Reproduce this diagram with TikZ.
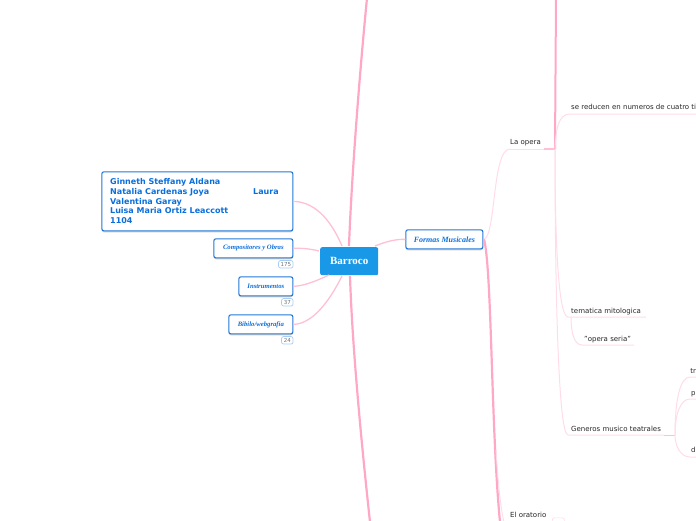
\documentclass[tikz,border=0pt]{standalone}
\usepackage{fontspec}
\setmainfont{DejaVu Sans}
\newfontfamily\serifbf{Liberation Serif}
\usetikzlibrary{shadows}
\definecolor{pinkA}{HTML}{FFA8C5}
\definecolor{pinkB}{HTML}{FFBFD4}
\definecolor{pinkC}{HTML}{FFDCE8}
\definecolor{blueA}{HTML}{1A98E8}
\definecolor{blueB}{HTML}{2478D8}
\definecolor{blueC}{HTML}{0A6FDC}
\definecolor{blueD}{HTML}{A8CDF5}
\tikzset{
  x=1pt,y=-1pt,
  topic/.style={draw=blueB,line width=1.1pt,fill=white,rounded corners=2pt,inner sep=0pt,
    drop shadow={shadow xshift=0pt,shadow yshift=-1.4pt,opacity=.4,fill=black!50},anchor=north west},
  subtitle/.style={font=\serifbf\bfseries\itshape\fontsize{6.7}{8}\selectfont,text=blueC},
  badge/.style={draw=blueD,line width=.7pt,fill=white,rounded corners=2pt,inner sep=0pt,
    font=\fontsize{5.5}{6}\selectfont,text=black!55,anchor=north west},
  leaf/.style={font=\fontsize{7}{8}\selectfont,text=black!85,inner sep=0pt,anchor=base west},
  trunk/.style={draw=pinkA,line width=2.2pt},
  branch/.style={draw=pinkB,line width=1.3pt},
  twig/.style={draw=pinkC,line width=1pt},
}
\begin{document}
\begin{tikzpicture}
\useasboundingbox (0,0) rectangle (696,520);
\clip (0,0) rectangle (696,520);
% nodes
\node[fill=blueA,rounded corners=2pt,minimum width=58pt,minimum height=28pt,inner sep=0pt,anchor=north west,
  text=white,font=\serifbf\bfseries\fontsize{11}{12}\selectfont] (barroco) at (320,247) {Barroco};
\node[topic,minimum width=191pt,minimum height=59pt] (autores) at (101.3,171.3) {};
\node[anchor=north west,inner sep=0pt,align=left,text=blueC,font=\bfseries\fontsize{8}{9.6}\selectfont] (autorestxt) at (110,178.7)
 {Ginneth Steffany Aldana\\\makebox[143pt][l]{Natalia Cardenas Joya}Laura\\Valentina Garay\\Luisa Maria Ortiz Leaccott\\1104};
\node[topic,minimum width=79pt,minimum height=19pt,subtitle] (comp) at (213.3,238.3) {Compositores y Obras};
\node[topic,minimum width=54pt,minimum height=19pt,subtitle] (inst) at (238.3,276.3) {Instrumentos};
\node[topic,minimum width=64pt,minimum height=19pt,subtitle] (bibl) at (228.3,314.3) {Bibilo/webgrafia};
\node[topic,minimum width=77pt,minimum height=19pt,subtitle,font=\serifbf\bfseries\itshape\fontsize{8}{10}\selectfont] (formas) at (405.3,229.3) {Formas Musicales};
\node[badge,minimum width=14.5pt,minimum height=7.5pt] (b1) at (278.2,260.2) {175};
\node[badge,minimum width=11.5pt,minimum height=7.5pt] (b2) at (281.2,298.2) {37};
\node[badge,minimum width=11.5pt,minimum height=7.5pt] (b3) at (281.2,336.2) {24};
\node[badge,draw=pinkC,minimum width=12pt,minimum height=8pt,text=pinkB] (b4) at (552,517.5) {};
\node[leaf] (opera) at (510,144) {La opera};
\node[leaf] (cuatro) at (571,109) {se reducen en numeros de cuatro ti};
\node[leaf] (tema) at (571,313) {tematica mitologica};
\node[leaf] (seria) at (584,341) {"opera seria"};
\node[leaf] (generos) at (571,431) {Generos musico teatrales};
\node[leaf] (tr) at (690.2,373) {tr};
\node[leaf] (p) at (691,395) {p};
\node[leaf] (d) at (691,452) {d};
\node[leaf] (orat) at (510,517) {El oratorio};
% junctions and free ends
\coordinate (upEnd) at (367,-2);
\coordinate (downEnd) at (370,522);
\coordinate (formasOut) at (484,239);
\coordinate (formasDown) at (500,522);
\coordinate (operaL) at (510,149);
\coordinate (operaR) at (544,149);
\coordinate (junction) at (555,149);
\coordinate (junctionUp) at (556,-2);
\coordinate (cuatroL) at (570,114);
\coordinate (cuatroR) at (698,114);
\coordinate (temaL) at (568,317);
\coordinate (temaR) at (646,317);
\coordinate (seriaL) at (582,345);
\coordinate (seriaR) at (634,345);
\coordinate (genL) at (568,435);
\coordinate (genM) at (664,435);
\coordinate (genR) at (675,435);
\coordinate (trL) at (690,377);
\coordinate (pL) at (690,399);
\coordinate (dL) at (690,457);
\coordinate (edgeT) at (698,377);
\coordinate (edgeP) at (698,399);
\coordinate (edgeD) at (698,457);
\coordinate (centerUp) at (349,246);
\coordinate (centerDown) at (350,276);
% connectors
\draw[trunk] (centerUp) .. controls (351,190) and (358,90) .. (upEnd);
\draw[trunk] (centerDown) .. controls (352,340) and (360,430) .. (downEnd);
\draw[branch] (autores.east) .. controls (318,202) and (333,225) .. (342,246);
\draw[branch] (comp.east) .. controls (303,248) and (311,249) .. (319,251);
\draw[branch] (inst.east) .. controls (304,286) and (316,281) .. (329,275);
\draw[branch] (bibl.east) .. controls (313,324) and (330,300) .. (342,276);
\draw[branch] (375,246) .. controls (385,242) and (395,239) .. (formas.west);
\draw[trunk] (formasOut) .. controls (492,270) and (491,430) .. (formasDown);
\draw[twig] (formasOut) .. controls (496,236) and (492,149) .. (operaL);
\draw[twig,line width=.9pt] (496,450) .. controls (498,480) and (500,505) .. (504,522);
\draw[twig] (operaL) -- (operaR);
\draw[branch,line width=1.5pt] (operaR) -- (junction);
\draw[trunk,line width=2pt] (junction) -- (junctionUp);
\draw[twig] (junction) .. controls (556,130) and (558,114) .. (cuatroL) -- (cuatroR);
\draw[twig] (junction) .. controls (555,220) and (557,317) .. (temaL) -- (temaR);
\draw[twig] (junction) .. controls (555,280) and (558,435) .. (genL) -- (genM);
\draw[branch,line width=1pt] (genM) -- (genR);
\draw[twig] (571,317) .. controls (571,335) and (575,345) .. (seriaL) -- (seriaR);
\draw[twig] (genR) .. controls (675,400) and (680,377) .. (trL) -- (edgeT);
\draw[twig] (genR) .. controls (675,415) and (680,399) .. (pL) -- (edgeP);
\draw[twig] (genR) .. controls (675,445) and (680,457) .. (dL) -- (edgeD);
\end{tikzpicture}
\end{document}
